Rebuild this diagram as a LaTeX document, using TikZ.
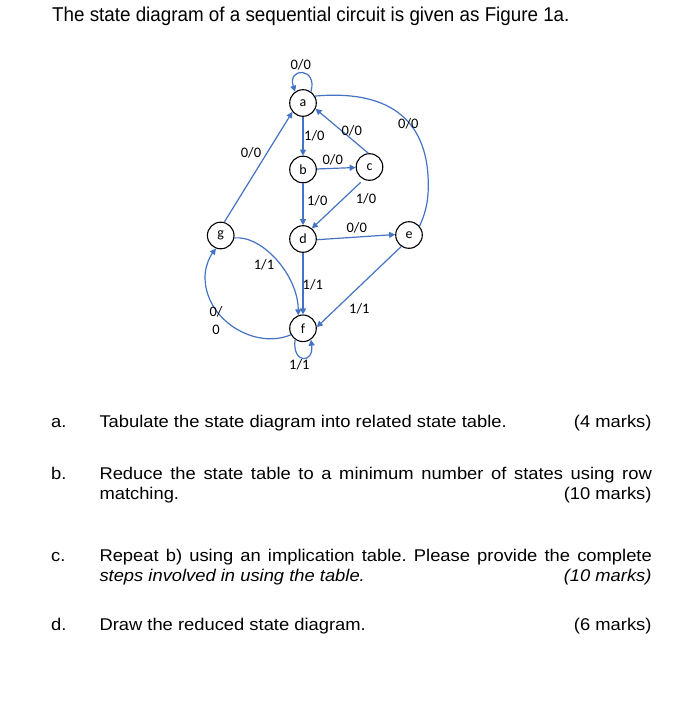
\documentclass[tikz,border=0pt]{standalone}
\usepackage{fontspec}
\setmainfont{Liberation Sans}
\newfontfamily\carl{Carlito}
\newfontfamily\headfont[FakeStretch=0.94]{Liberation Sans}
\newfontfamily\itemfont[FakeStretch=1.08]{Liberation Sans}
\definecolor{linkblue}{HTML}{4472C4}
\usetikzlibrary{
  arrows.meta,
  shapes
}

\begin{document}
\begin{tikzpicture}[x=1pt, y=-1pt,
  state/.style = {shape=circle, draw=black, line width=1.1pt,
    minimum size=26.6pt, inner sep=0pt,
    font=\carl\fontsize{14}{14}\selectfont},
  trans/.style = {draw=linkblue, line width=1.2pt,
    -{Triangle[length=6pt,width=6pt]}},
  arc/.style = {draw=linkblue, line width=1.2pt},
  lbl/.style = {inner sep=0pt, align=center,
    font=\carl\fontsize{14.5}{18}\selectfont},
  txt/.style = {inner sep=0pt, font=\itemfont\fontsize{17}{20}\selectfont\frenchspacing}]
  \useasboundingbox (0,0) rectangle (697,709);
  \node[anchor=base west, inner sep=0pt] (title) at (52,22)
    {\headfont\fontsize{20}{24}\selectfont The state diagram of a sequential circuit is given as Figure 1a.};
  % states
  \node[state] (a) at (303,103) {a};
  \node[state] (b) at (303,169.5) {b};
  \node[state] (c) at (369.5,167) {c};
  \node[state] (d) at (303,239) {d};
  \node[state] (e) at (409,235) {e};
  \node[state] (g) at (220.7,235.5) {g};
  \node[state] (f) at (303,328.3) {f};
  % transitions
  \draw[trans] (a.55) .. controls (318,67) and (287,67) .. (a.125);
  \draw[trans] (a) -- (b);
  \draw[trans] (b) -- (c);
  \draw[trans] (c.95) -- (a.-25);
  \draw[trans] (b) -- (d);
  \draw[trans, shorten <=4pt] (c.245) -- (d.50);
  \draw[trans] (d.-3) -- (e.178);
  \draw[trans] (d) -- (f);
  \draw[trans] (e.236) -- (f.5);
  \draw[trans] (g.75) -- (a.220);
  \draw[arc] (a.30) .. controls (395,89) and (428.3,125) .. (428.3,185)
    .. controls (428.3,205) and (424,216) .. (e.40);
  \draw[trans] (g.-10) .. controls (262,235) and (298,275) .. (f.110);
  \draw[trans] (f.208) .. controls (255,350) and (205,320) .. (205,277)
    .. controls (205,265) and (211,255) .. (g.250);
  \draw[trans] (f.235) .. controls (292,364) and (314,364) .. (f.305);
  % labels
  \node[lbl] (l-aa) at (300.7,65) {0/0};
  \node[lbl] (l-ab) at (314.3,136) {1/0};
  \node[lbl] (l-bc) at (332.7,160) {0/0};
  \node[lbl] (l-ca) at (351.7,130.8) {0/0};
  \node[lbl] (l-ea) at (408.3,123.3) {0/0};
  \node[lbl] (l-ga) at (251,152.5) {0/0};
  \node[lbl] (l-bd) at (317.2,200.8) {1/0};
  \node[lbl] (l-cd) at (366,198.3) {1/0};
  \node[lbl] (l-de) at (356.7,228) {0/0};
  \node[lbl] (l-gf) at (264,264.3) {1/1};
  \node[lbl] (l-df) at (312.8,284.5) {1/1};
  \node[lbl] (l-ef) at (359.3,308.7) {1/1};
  \node[lbl] (l-fg) at (216,320.3) {0/\\0};
  \node[lbl] (l-ff) at (299.3,365) {1/1};
  % questions
  \node[txt, anchor=base west] (qa) at (51,427.7) {a.};
  \node[txt, anchor=base west] (ta) at (99.3,427.7) {Tabulate the state diagram into related state table.};
  \node[txt, anchor=base east] (ma) at (651.7,427.7) {(4 marks)};
  \node[txt, anchor=base west] (qb) at (51,479) {b.};
  \node[txt, anchor=base west] (tb) at (99.3,479)
    {\makebox[552.4pt][s]{Reduce the state table to a minimum number of states using row}};
  \node[txt, anchor=base west] (tb2) at (99.3,499.3) {matching.};
  \node[txt, anchor=base east] (mb) at (651.7,499.3) {(10 marks)};
  \node[txt, anchor=base west] (qc) at (51,561.7) {c.};
  \node[txt, anchor=base west] (tc) at (99.3,561.7)
    {\makebox[552.4pt][s]{Repeat b) using an implication table. Please provide the complete}};
  \node[txt, anchor=base west] (tc2) at (99.3,581.7) {\itshape steps involved in using the table.};
  \node[txt, anchor=base east] (mc) at (651.7,581.7) {\itshape (10 marks)};
  \node[txt, anchor=base west] (qd) at (51,630) {d.};
  \node[txt, anchor=base west] (td) at (99.3,630) {Draw the reduced state diagram.};
  \node[txt, anchor=base east] (md) at (651.7,630) {(6 marks)};
\end{tikzpicture}
\end{document}
